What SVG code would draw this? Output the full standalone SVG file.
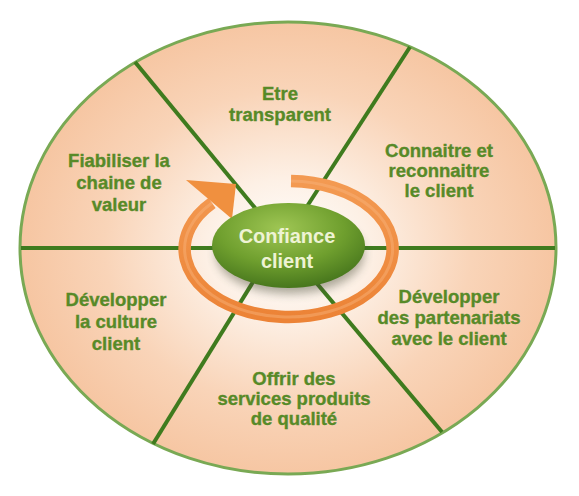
<svg xmlns="http://www.w3.org/2000/svg" width="579" height="496" viewBox="0 0 579 496">
  <defs>
    <radialGradient id="bg" cx="288" cy="248" r="270" gradientUnits="userSpaceOnUse" gradientTransform="translate(288 248) scale(1 0.86) translate(-288 -248)">
      <stop offset="0" stop-color="#ffffff"/>
      <stop offset="0.3" stop-color="#fdf0e5"/>
      <stop offset="0.68" stop-color="#f9d4b8"/>
      <stop offset="1" stop-color="#f6c5a1"/>
    </radialGradient>
    <radialGradient id="green" cx="0.45" cy="0.3" r="0.75">
      <stop offset="0" stop-color="#9fc654"/>
      <stop offset="0.55" stop-color="#6f9f2e"/>
      <stop offset="1" stop-color="#41701a"/>
    </radialGradient>
    <linearGradient id="orange" x1="0" y1="0" x2="0" y2="1">
      <stop offset="0" stop-color="#f39a52"/>
      <stop offset="1" stop-color="#ec8336"/>
    </linearGradient>
    <filter id="shadow" x="-30%" y="-30%" width="160%" height="180%">
      <feGaussianBlur stdDeviation="5"/>
    </filter>
  </defs>
  <style>
    .lbl { font-family: "Liberation Sans", Arial, sans-serif; font-weight: bold; font-size: 18.5px; fill: #578a28; stroke: #578a28; stroke-width: 0.35; text-anchor: middle; }
    .ctr { font-family: "Liberation Sans", Arial, sans-serif; font-weight: bold; font-size: 20px; fill: #eef3d4; text-anchor: middle; }
    .spoke { stroke: #3f7b1e; stroke-width: 4; fill: none; }
  </style>

  <rect width="579" height="496" fill="#ffffff"/>

  <g id="wheel">
    <ellipse cx="288" cy="248" rx="268" ry="226" fill="url(#bg)" stroke="#79a954" stroke-width="3"/>
  </g>

  <g id="connectors">
    <line class="spoke" x1="21" y1="248" x2="555" y2="248"/>
    <line class="spoke" x1="135" y1="62" x2="288" y2="248"/>
    <line class="spoke" x1="410" y1="47" x2="282" y2="245"/>
    <line class="spoke" x1="153" y1="444" x2="274" y2="248"/>
    <line class="spoke" x1="442" y1="432" x2="287" y2="248"/>
  </g>

  <g id="cycle-arrow">
    <path d="M 291 181 A 104 68 0 1 1 212 203" fill="none" stroke="url(#orange)" stroke-width="12.5"/>
    <path d="M 291 181 A 104 68 0 1 1 212 203" fill="none" stroke="#f8b47c" stroke-width="3" opacity="0.45"/>
    <polygon points="186,180 236,184 232,219" fill="#f0903f"/>
  </g>

  <g id="center">
    <ellipse cx="290" cy="254" rx="74" ry="40" fill="#4a4a30" opacity="0.45" filter="url(#shadow)"/>
    <ellipse cx="288.5" cy="245.5" rx="76.5" ry="42.5" fill="url(#green)"/>
    <text class="ctr" x="287" y="243">Confiance</text>
    <text class="ctr" x="287" y="268">client</text>
  </g>

  <g id="seg-transparent">
    <text class="lbl" x="280" y="100">Etre</text>
    <text class="lbl" x="280" y="121">transparent</text>
  </g>

  <g id="seg-connaitre">
    <text class="lbl" x="439" y="157">Connaitre et</text>
    <text class="lbl" x="439" y="177">reconnaitre</text>
    <text class="lbl" x="439" y="197">le client</text>
  </g>

  <g id="seg-partenariats">
    <text class="lbl" x="449" y="303">Développer</text>
    <text class="lbl" x="449" y="324">des partenariats</text>
    <text class="lbl" x="449" y="345">avec le client</text>
  </g>

  <g id="seg-qualite">
    <text class="lbl" x="294" y="385">Offrir des</text>
    <text class="lbl" x="294" y="405">services produits</text>
    <text class="lbl" x="294" y="425">de qualité</text>
  </g>

  <g id="seg-culture">
    <text class="lbl" x="116" y="306">Développer</text>
    <text class="lbl" x="116" y="328">la culture</text>
    <text class="lbl" x="116" y="350">client</text>
  </g>

  <g id="seg-chaine">
    <text class="lbl" x="119" y="167">Fiabiliser la</text>
    <text class="lbl" x="119" y="189">chaine de</text>
    <text class="lbl" x="119" y="211">valeur</text>
  </g>
</svg>
